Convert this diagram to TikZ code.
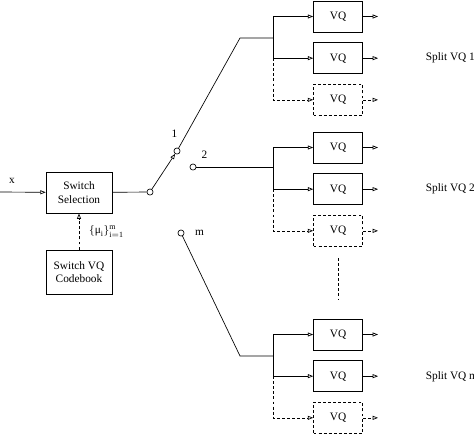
\documentclass[tikz,border=0pt]{standalone}
\usepackage{fontspec}
\setmainfont{Liberation Serif}
\usetikzlibrary{arrows.meta,positioning}

\begin{document}
\begin{tikzpicture}[x=0.75pt,y=-0.75pt,>={Triangle[open,length=4pt,width=3pt]},
    line width=0.5pt,node distance=7.5pt,font=\fontsize{8.5}{10}\selectfont,
    dashed/.style={dash pattern=on 2.2pt off 1.6pt},
    block/.style={draw,inner sep=0pt,align=center,minimum width=49.5pt,minimum height=31pt},
    vq node/.style={draw,inner sep=0pt,minimum width=36.75pt,minimum height=23.25pt},
    port/.style={circle,draw,inner sep=0pt,minimum size=4.6pt}]

      \useasboundingbox (0,0) rectangle (474,433);

      % switch part
      \coordinate (in) at (0,192);
      \node[block] (sw) at (79,192.5) {Switch\\Selection};
      \node[block,minimum height=33pt] (cb) [below=27pt of sw] {Switch VQ\\Codebook};
      \node[port] (c0) at (150,192) {};
      \node[port,label={[label distance=4pt,xshift=-2pt]above:1}] (c1) at (177,151) {};
      \node[port,label={[label distance=1.5pt]above right:2}] (c2) at (193,167) {};
      \node[port,label={[label distance=4.5pt]right:m}] (cm) at (181,233) {};

      % split VQ 1
      \node[vq node] (v11) at (338,16.5) {VQ};
      \node[vq node] (v12) [below=of v11] {VQ};
      \node[vq node,dashed] (v13) [below=of v12] {VQ};
      % split VQ 2
      \node[vq node] (v21) at (338,147.5) {VQ};
      \node[vq node] (v22) [below=of v21] {VQ};
      \node[vq node,dashed] (v23) [below=of v22] {VQ};
      % split VQ m
      \node[vq node] (vm1) at (338,334.5) {VQ};
      \node[vq node] (vm2) [below=of vm1] {VQ};
      \node[vq node,dashed] (vm3) [below=of vm2] {VQ};

      \node[anchor=west] (s1) at (421,58) {Split VQ 1};
      \node[anchor=west] (s2) at (421,189) {Split VQ 2};
      \node[anchor=west] (sm) at (421,377) {Split VQ m};

      \coordinate (k1) at (240,38);
      \coordinate (j1) at (273,38);
      \coordinate (j2) at (273,167);
      \coordinate (km) at (240,356);
      \coordinate (jm) at (273,356);
      \coordinate (d1) at (338,258);
      \coordinate (d2) at (338,300);

      \draw[->] (in) -- node[above=3pt,pos=0.26] {x} (sw);
      \draw[dashed,->] (cb) -- node[right=4pt] {$\{\mbox{μ}_{\mathrm{i}}\}_{\mathrm{i=1}}^{\mathrm{m}}$} (sw);
      \draw (sw) -- (c0);
      \draw[->] (c0) -- (c1);
      \draw (c1) -- (k1) -- (j1);
      \draw (c2) -- (j2);
      \draw (cm) -- (km) -- (jm);
      \draw[dashed] (d1) -- (d2);

      % buses
      \draw[->] (j1) |- (v11);
      \draw[->] (j1) |- (v12);
      \draw[dashed,->] (v12 -| j1) |- (v13);
      \draw[->] (j2) |- (v21);
      \draw[->] (j2) |- (v22);
      \draw[dashed,->] (v22 -| j2) |- (v23);
      \draw[->] (jm) |- (vm1);
      \draw[->] (jm) |- (vm2);
      \draw[dashed,->] (vm2 -| jm) |- (vm3);

      % outputs
      \foreach \v in {v11,v12,v21,v22,vm1,vm2}
        \draw[->] (\v) -- ++(40,0);
      \foreach \v in {v13,v23,vm3}
        \draw[dashed,->] (\v) -- ++(40,0);
    \end{tikzpicture}
\end{document}
